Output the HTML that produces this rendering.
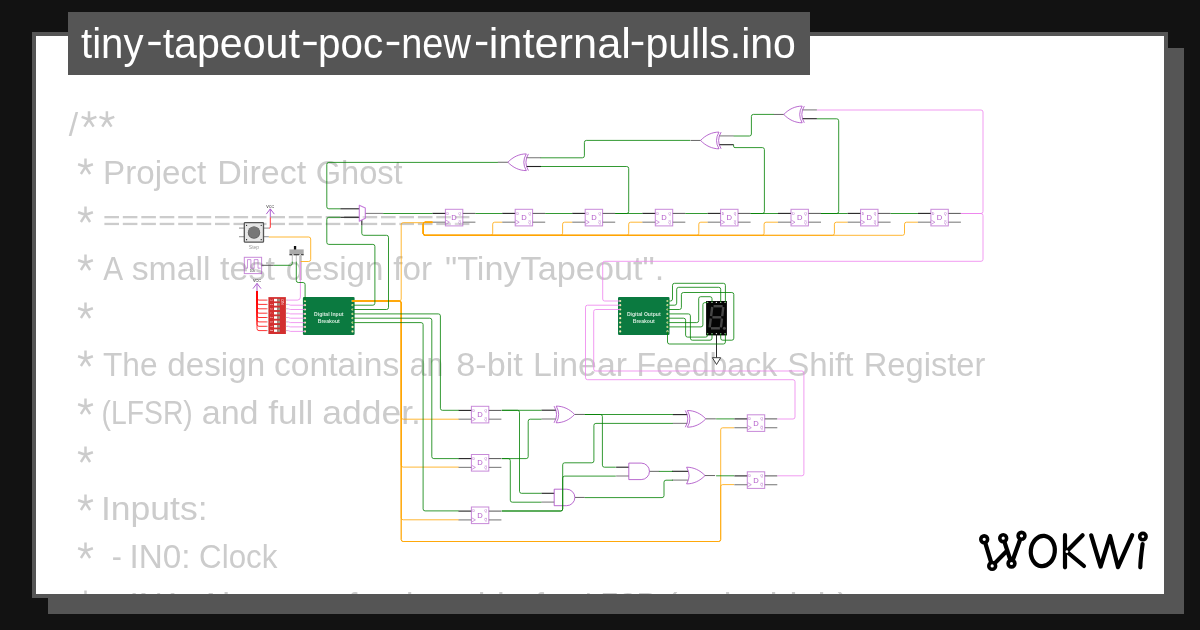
<!DOCTYPE html>
<html><head><meta charset="utf-8">
<style>
html,body{margin:0;padding:0;}
body{width:1200px;height:630px;background:#121212;overflow:hidden;position:relative;font-family:"Liberation Sans",sans-serif;}
#card{position:absolute;left:32px;top:32px;width:1128px;height:558px;border:4px solid #555;background:#fff;box-shadow:16px 16px 0 #555;overflow:hidden;}
#title{position:absolute;left:68px;top:12px;width:742px;height:63px;background:#555;}
svg{position:absolute;left:0;top:0;will-change:transform;}
</style></head><body>
<div id="card"></div>
<svg id="txt" width="1200" height="630" viewBox="0 0 1200 630" font-family="Liberation Sans, sans-serif">
<svg x="36" y="36" width="1128" height="558" viewBox="36 36 1128 558" style="position:static;will-change:auto"><g fill="#cccccc" font-size="34">
<text x="68.7" y="136" textLength="9.4" lengthAdjust="spacingAndGlyphs">/</text>
<path transform="translate(89.0 119.5)" d="M0 0V-8.2M0 0L7.4 -2.6M0 0L-7.4 -2.6M0 0L4.6 7.2M0 0L-4.6 7.2" stroke="#ccc" stroke-width="2.5" fill="none"/>
<path transform="translate(106.9 119.5)" d="M0 0V-8.2M0 0L7.4 -2.6M0 0L-7.4 -2.6M0 0L4.6 7.2M0 0L-4.6 7.2" stroke="#ccc" stroke-width="2.5" fill="none"/>
<path transform="translate(85.5 166.8)" d="M0 0V-8.2M0 0L7.4 -2.6M0 0L-7.4 -2.6M0 0L4.6 7.2M0 0L-4.6 7.2" stroke="#ccc" stroke-width="2.5" fill="none"/>
<text x="103.1" y="184" textLength="103.1" lengthAdjust="spacingAndGlyphs">Project</text>
<text x="217.3" y="184" textLength="88.8" lengthAdjust="spacingAndGlyphs">Direct</text>
<text x="315.7" y="184" textLength="87.0" lengthAdjust="spacingAndGlyphs">Ghost</text>
<path transform="translate(85.5 214.8)" d="M0 0V-8.2M0 0L7.4 -2.6M0 0L-7.4 -2.6M0 0L4.6 7.2M0 0L-4.6 7.2" stroke="#ccc" stroke-width="2.5" fill="none"/>
<path transform="translate(85.5 262.8)" d="M0 0V-8.2M0 0L7.4 -2.6M0 0L-7.4 -2.6M0 0L4.6 7.2M0 0L-4.6 7.2" stroke="#ccc" stroke-width="2.5" fill="none"/>
<text x="103.3" y="280" textLength="19.9" lengthAdjust="spacingAndGlyphs">A</text>
<text x="131.7" y="280" textLength="78.8" lengthAdjust="spacingAndGlyphs">small</text>
<text x="220.0" y="280" textLength="54.9" lengthAdjust="spacingAndGlyphs">test</text>
<text x="285.7" y="280" textLength="97.8" lengthAdjust="spacingAndGlyphs">design</text>
<text x="393.3" y="280" textLength="38.7" lengthAdjust="spacingAndGlyphs">for</text>
<text x="445.0" y="280" textLength="219.2" lengthAdjust="spacingAndGlyphs">&quot;TinyTapeout&quot;.</text>
<path transform="translate(85.5 310.8)" d="M0 0V-8.2M0 0L7.4 -2.6M0 0L-7.4 -2.6M0 0L4.6 7.2M0 0L-4.6 7.2" stroke="#ccc" stroke-width="2.5" fill="none"/>
<path transform="translate(85.5 358.8)" d="M0 0V-8.2M0 0L7.4 -2.6M0 0L-7.4 -2.6M0 0L4.6 7.2M0 0L-4.6 7.2" stroke="#ccc" stroke-width="2.5" fill="none"/>
<text x="103.0" y="376" textLength="54.5" lengthAdjust="spacingAndGlyphs">The</text>
<text x="167.3" y="376" textLength="97.8" lengthAdjust="spacingAndGlyphs">design</text>
<text x="274.0" y="376" textLength="125.3" lengthAdjust="spacingAndGlyphs">contains</text>
<text x="409.8" y="376" textLength="33.6" lengthAdjust="spacingAndGlyphs">an</text>
<text x="456.3" y="376" textLength="66.4" lengthAdjust="spacingAndGlyphs">8-bit</text>
<text x="533.0" y="376" textLength="94.0" lengthAdjust="spacingAndGlyphs">Linear</text>
<text x="636.4" y="376" textLength="140.9" lengthAdjust="spacingAndGlyphs">Feedback</text>
<text x="787.3" y="376" textLength="66.1" lengthAdjust="spacingAndGlyphs">Shift</text>
<text x="863.8" y="376" textLength="121.5" lengthAdjust="spacingAndGlyphs">Register</text>
<path transform="translate(85.5 406.8)" d="M0 0V-8.2M0 0L7.4 -2.6M0 0L-7.4 -2.6M0 0L4.6 7.2M0 0L-4.6 7.2" stroke="#ccc" stroke-width="2.5" fill="none"/>
<text x="101.6" y="424" textLength="91.2" lengthAdjust="spacingAndGlyphs">(LFSR)</text>
<text x="201.7" y="424" textLength="56.9" lengthAdjust="spacingAndGlyphs">and</text>
<text x="268.3" y="424" textLength="45.0" lengthAdjust="spacingAndGlyphs">full</text>
<text x="322.3" y="424" textLength="98.6" lengthAdjust="spacingAndGlyphs">adder.</text>
<path transform="translate(85.5 454.8)" d="M0 0V-8.2M0 0L7.4 -2.6M0 0L-7.4 -2.6M0 0L4.6 7.2M0 0L-4.6 7.2" stroke="#ccc" stroke-width="2.5" fill="none"/>
<path transform="translate(85.5 502.8)" d="M0 0V-8.2M0 0L7.4 -2.6M0 0L-7.4 -2.6M0 0L4.6 7.2M0 0L-4.6 7.2" stroke="#ccc" stroke-width="2.5" fill="none"/>
<text x="100.9" y="520" textLength="106.7" lengthAdjust="spacingAndGlyphs">Inputs:</text>
<path transform="translate(85.5 550.8)" d="M0 0V-8.2M0 0L7.4 -2.6M0 0L-7.4 -2.6M0 0L4.6 7.2M0 0L-4.6 7.2" stroke="#ccc" stroke-width="2.5" fill="none"/>
<text x="111.8" y="568" textLength="10.1" lengthAdjust="spacingAndGlyphs">-</text>
<text x="129.6" y="568" textLength="61.0" lengthAdjust="spacingAndGlyphs">IN0:</text>
<text x="199.1" y="568" textLength="78.3" lengthAdjust="spacingAndGlyphs">Clock</text>
<path transform="translate(85.5 598.8)" d="M0 0V-8.2M0 0L7.4 -2.6M0 0L-7.4 -2.6M0 0L4.6 7.2M0 0L-4.6 7.2" stroke="#ccc" stroke-width="2.5" fill="none"/>
<text x="111.8" y="616" textLength="10.1" lengthAdjust="spacingAndGlyphs">-</text>
<text x="129.6" y="616" textLength="61.1" lengthAdjust="spacingAndGlyphs">IN1:</text>
<text x="199.0" y="616" textLength="139.9" lengthAdjust="spacingAndGlyphs">Alternate</text>
<text x="348.0" y="616" textLength="65.4" lengthAdjust="spacingAndGlyphs">feed</text>
<text x="420.0" y="616" textLength="103.9" lengthAdjust="spacingAndGlyphs">enable</text>
<text x="535.0" y="616" textLength="37.8" lengthAdjust="spacingAndGlyphs">for</text>
<text x="584.8" y="616" textLength="72.5" lengthAdjust="spacingAndGlyphs">LFSR</text>
<text x="666.0" y="616" textLength="102.0" lengthAdjust="spacingAndGlyphs">(active</text>
<text x="769.4" y="616" textLength="80.0" lengthAdjust="spacingAndGlyphs">high)</text>
<rect x="104.4" y="216.0" width="14.6" height="2.3"/><rect x="104.4" y="222.8" width="14.6" height="2.3"/><rect x="122.8" y="216.0" width="14.6" height="2.3"/><rect x="122.8" y="222.8" width="14.6" height="2.3"/><rect x="141.3" y="216.0" width="14.6" height="2.3"/><rect x="141.3" y="222.8" width="14.6" height="2.3"/><rect x="159.7" y="216.0" width="14.6" height="2.3"/><rect x="159.7" y="222.8" width="14.6" height="2.3"/><rect x="178.2" y="216.0" width="14.6" height="2.3"/><rect x="178.2" y="222.8" width="14.6" height="2.3"/><rect x="196.6" y="216.0" width="14.6" height="2.3"/><rect x="196.6" y="222.8" width="14.6" height="2.3"/><rect x="215.0" y="216.0" width="14.6" height="2.3"/><rect x="215.0" y="222.8" width="14.6" height="2.3"/><rect x="233.5" y="216.0" width="14.6" height="2.3"/><rect x="233.5" y="222.8" width="14.6" height="2.3"/><rect x="251.9" y="216.0" width="14.6" height="2.3"/><rect x="251.9" y="222.8" width="14.6" height="2.3"/><rect x="270.4" y="216.0" width="14.6" height="2.3"/><rect x="270.4" y="222.8" width="14.6" height="2.3"/><rect x="288.8" y="216.0" width="14.6" height="2.3"/><rect x="288.8" y="222.8" width="14.6" height="2.3"/><rect x="307.2" y="216.0" width="14.6" height="2.3"/><rect x="307.2" y="222.8" width="14.6" height="2.3"/><rect x="325.7" y="216.0" width="14.6" height="2.3"/><rect x="325.7" y="222.8" width="14.6" height="2.3"/><rect x="344.1" y="216.0" width="14.6" height="2.3"/><rect x="344.1" y="222.8" width="14.6" height="2.3"/><rect x="362.6" y="216.0" width="14.6" height="2.3"/><rect x="362.6" y="222.8" width="14.6" height="2.3"/><rect x="381.0" y="216.0" width="14.6" height="2.3"/><rect x="381.0" y="222.8" width="14.6" height="2.3"/><rect x="399.4" y="216.0" width="14.6" height="2.3"/><rect x="399.4" y="222.8" width="14.6" height="2.3"/><rect x="417.9" y="216.0" width="14.6" height="2.3"/><rect x="417.9" y="222.8" width="14.6" height="2.3"/><rect x="436.3" y="216.0" width="14.6" height="2.3"/><rect x="436.3" y="222.8" width="14.6" height="2.3"/><rect x="454.8" y="216.0" width="14.6" height="2.3"/><rect x="454.8" y="222.8" width="14.6" height="2.3"/>
</g></svg>
</svg>
<svg id="circ" width="1200" height="630" viewBox="0 0 1200 630" font-family="Liberation Sans, sans-serif" fill="none">
<g>
<path d="M239.00 228.10L268.80 228.10" stroke="#999" stroke-width="1.1"/>
<path d="M239.00 236.70L268.80 236.70" stroke="#999" stroke-width="1.1"/>
<rect x="244.3" y="222.7" width="19.2" height="19.5" rx="0.8" fill="#e6e6e6" stroke="#555" stroke-width="1.3"/>
<circle cx="254" cy="232.6" r="6.2" fill="#5a5a5a"/><circle cx="254" cy="232.2" r="5.8" fill="#777"/>
<circle cx="246.6" cy="225.3" r="0.6" fill="#111"/>
<circle cx="261.2" cy="225.3" r="0.6" fill="#111"/>
<circle cx="246.6" cy="239.7" r="0.6" fill="#111"/>
<circle cx="261.2" cy="239.7" r="0.6" fill="#111"/>
<text x="254" y="249.3" font-size="5" fill="#999" text-anchor="middle">Step</text>
</g>
<text x="270.3" y="207.7" font-size="3.8" fill="#111" text-anchor="middle">VCC</text>
<path d="M270.3 217.3V208.9M266.3 214.1L270.3 208.9L274.3 214.1" stroke="#aa55cc" stroke-width="0.95" stroke-linejoin="round"/>
<text x="257" y="282.2" font-size="3.8" fill="#111" text-anchor="middle">VCC</text>
<path d="M257 291V283.4M253 288.59999999999997L257 283.4L261 288.59999999999997" stroke="#aa55cc" stroke-width="0.95" stroke-linejoin="round"/>
<g>
<path d="M261.60 265.30L273.70 265.30" stroke="#555" stroke-width="1.0"/>
<rect x="244.3" y="257.3" width="17.3" height="16.3" stroke="#a33cc0" stroke-opacity="0.6" stroke-width="1"/>
<path d="M245.6 268.2H247.5V259.6H250.9V268.2H254.2V259.6H258V268.2H260.6" stroke="#a33cc0" stroke-opacity="0.6" stroke-width="0.9"/>
<rect x="248.5" y="269.6" width="8" height="3.2" fill="#fff" fill-opacity="0.7"/>
<text x="252.4" y="272.4" font-size="3.4" fill="#444" text-anchor="middle">10k</text>
</g>
<g>
<path d="M292.30 255.00L292.30 261.50" stroke="#bbb" stroke-width="1.0"/>
<path d="M296.30 255.00L296.30 261.50" stroke="#bbb" stroke-width="1.0"/>
<path d="M300.40 255.00L300.40 261.50" stroke="#bbb" stroke-width="1.0"/>
<rect x="289.4" y="249.4" width="14.3" height="4.7" fill="#aaa"/>
<rect x="293.9" y="246" width="2.3" height="3.5" fill="#111"/>
<path d="M289.4 254.7H292.3M293.5 254.7H299.5M300.8 254.7H303.7" stroke="#111" stroke-width="1.1"/>
</g>
<g>
<rect x="268.4" y="297.1" width="17.5" height="36.9" fill="#d32f2f"/>
<path d="M266.60 300.10L268.40 300.10" stroke="#bbb" stroke-width="0.9"/>
<path d="M285.90 300.10L287.80 300.10" stroke="#bbb" stroke-width="0.9"/>
<rect x="274" y="298.85" width="3.1" height="2.5" fill="#fff"/><rect x="277.1" y="298.85" width="2.9" height="2.5" fill="#999080"/>
<text x="271.3" y="301.00" font-size="2.6" fill="#fff" fill-opacity="0.8" text-anchor="middle" transform="rotate(90 271.3 300.10)">1</text>
<path d="M266.60 304.40L268.40 304.40" stroke="#bbb" stroke-width="0.9"/>
<path d="M285.90 304.40L287.80 304.40" stroke="#bbb" stroke-width="0.9"/>
<rect x="274" y="303.15" width="3.1" height="2.5" fill="#fff"/><rect x="277.1" y="303.15" width="2.9" height="2.5" fill="#999080"/>
<text x="271.3" y="305.30" font-size="2.6" fill="#fff" fill-opacity="0.8" text-anchor="middle" transform="rotate(90 271.3 304.40)">2</text>
<path d="M266.60 308.80L268.40 308.80" stroke="#bbb" stroke-width="0.9"/>
<path d="M285.90 308.80L287.80 308.80" stroke="#bbb" stroke-width="0.9"/>
<rect x="274" y="307.55" width="3.1" height="2.5" fill="#fff"/><rect x="277.1" y="307.55" width="2.9" height="2.5" fill="#999080"/>
<text x="271.3" y="309.70" font-size="2.6" fill="#fff" fill-opacity="0.8" text-anchor="middle" transform="rotate(90 271.3 308.80)">3</text>
<path d="M266.60 313.20L268.40 313.20" stroke="#bbb" stroke-width="0.9"/>
<path d="M285.90 313.20L287.80 313.20" stroke="#bbb" stroke-width="0.9"/>
<rect x="274" y="311.95" width="3.1" height="2.5" fill="#fff"/><rect x="277.1" y="311.95" width="2.9" height="2.5" fill="#999080"/>
<text x="271.3" y="314.10" font-size="2.6" fill="#fff" fill-opacity="0.8" text-anchor="middle" transform="rotate(90 271.3 313.20)">4</text>
<path d="M266.60 317.50L268.40 317.50" stroke="#bbb" stroke-width="0.9"/>
<path d="M285.90 317.50L287.80 317.50" stroke="#bbb" stroke-width="0.9"/>
<rect x="274" y="316.25" width="3.1" height="2.5" fill="#fff"/><rect x="277.1" y="316.25" width="2.9" height="2.5" fill="#999080"/>
<text x="271.3" y="318.40" font-size="2.6" fill="#fff" fill-opacity="0.8" text-anchor="middle" transform="rotate(90 271.3 317.50)">5</text>
<path d="M266.60 321.90L268.40 321.90" stroke="#bbb" stroke-width="0.9"/>
<path d="M285.90 321.90L287.80 321.90" stroke="#bbb" stroke-width="0.9"/>
<rect x="274" y="320.65" width="3.1" height="2.5" fill="#fff"/><rect x="277.1" y="320.65" width="2.9" height="2.5" fill="#999080"/>
<text x="271.3" y="322.80" font-size="2.6" fill="#fff" fill-opacity="0.8" text-anchor="middle" transform="rotate(90 271.3 321.90)">6</text>
<path d="M266.60 326.30L268.40 326.30" stroke="#bbb" stroke-width="0.9"/>
<path d="M285.90 326.30L287.80 326.30" stroke="#bbb" stroke-width="0.9"/>
<rect x="274" y="325.05" width="3.1" height="2.5" fill="#fff"/><rect x="277.1" y="325.05" width="2.9" height="2.5" fill="#999080"/>
<text x="271.3" y="327.20" font-size="2.6" fill="#fff" fill-opacity="0.8" text-anchor="middle" transform="rotate(90 271.3 326.30)">7</text>
<path d="M266.60 330.60L268.40 330.60" stroke="#bbb" stroke-width="0.9"/>
<path d="M285.90 330.60L287.80 330.60" stroke="#bbb" stroke-width="0.9"/>
<rect x="274" y="329.35" width="3.1" height="2.5" fill="#fff"/><rect x="277.1" y="329.35" width="2.9" height="2.5" fill="#999080"/>
<text x="271.3" y="331.50" font-size="2.6" fill="#fff" fill-opacity="0.8" text-anchor="middle" transform="rotate(90 271.3 330.60)">8</text>
<text x="282.4" y="301.9" font-size="3.6" fill="#fff" fill-opacity="0.9" text-anchor="middle" transform="rotate(90 282.4 301.9)" dy="1.2">ON</text>
</g>
<rect x="302.9" y="296.9" width="51.7" height="38" rx="1.2" fill="#0b7a40"/>
<circle cx="305" cy="301.0" r="1.1" fill="#f3ecb3"/><circle cx="352.5" cy="301.0" r="1.1" fill="#f3ecb3"/>
<circle cx="305" cy="305.2" r="1.1" fill="#f3ecb3"/><circle cx="352.5" cy="305.2" r="1.1" fill="#f3ecb3"/>
<circle cx="305" cy="309.5" r="1.1" fill="#f3ecb3"/><circle cx="352.5" cy="309.5" r="1.1" fill="#f3ecb3"/>
<circle cx="305" cy="313.9" r="1.1" fill="#f3ecb3"/><circle cx="352.5" cy="313.9" r="1.1" fill="#f3ecb3"/>
<circle cx="305" cy="318.2" r="1.1" fill="#f3ecb3"/><circle cx="352.5" cy="318.2" r="1.1" fill="#f3ecb3"/>
<circle cx="305" cy="322.6" r="1.1" fill="#f3ecb3"/><circle cx="352.5" cy="322.6" r="1.1" fill="#f3ecb3"/>
<circle cx="305" cy="326.9" r="1.1" fill="#f3ecb3"/><circle cx="352.5" cy="326.9" r="1.1" fill="#f3ecb3"/>
<circle cx="305" cy="331.4" r="1.1" fill="#f3ecb3"/><circle cx="352.5" cy="331.4" r="1.1" fill="#f3ecb3"/>
<g font-size="5.1" font-weight="bold" fill="#e4f3e8" fill-opacity="0.92" text-anchor="middle"><text x="328.75" y="316.0">Digital Input</text><text x="328.75" y="322.79999999999995">Breakout</text></g>
<rect x="618" y="296.9" width="51.5" height="38" rx="1.2" fill="#0b7a40"/>
<circle cx="620.2" cy="301.0" r="1.1" fill="#f3ecb3"/><circle cx="667.5" cy="301.0" r="1.1" fill="#f3ecb3"/>
<circle cx="620.2" cy="305.2" r="1.1" fill="#f3ecb3"/><circle cx="667.5" cy="305.2" r="1.1" fill="#f3ecb3"/>
<circle cx="620.2" cy="309.5" r="1.1" fill="#f3ecb3"/><circle cx="667.5" cy="309.5" r="1.1" fill="#f3ecb3"/>
<circle cx="620.2" cy="313.9" r="1.1" fill="#f3ecb3"/><circle cx="667.5" cy="313.9" r="1.1" fill="#f3ecb3"/>
<circle cx="620.2" cy="318.2" r="1.1" fill="#f3ecb3"/><circle cx="667.5" cy="318.2" r="1.1" fill="#f3ecb3"/>
<circle cx="620.2" cy="322.6" r="1.1" fill="#f3ecb3"/><circle cx="667.5" cy="322.6" r="1.1" fill="#f3ecb3"/>
<circle cx="620.2" cy="326.9" r="1.1" fill="#f3ecb3"/><circle cx="667.5" cy="326.9" r="1.1" fill="#f3ecb3"/>
<circle cx="620.2" cy="331.4" r="1.1" fill="#f3ecb3"/><circle cx="667.5" cy="331.4" r="1.1" fill="#f3ecb3"/>
<g font-size="5.1" font-weight="bold" fill="#e4f3e8" fill-opacity="0.92" text-anchor="middle"><text x="643.75" y="316.0">Digital Output</text><text x="643.75" y="322.79999999999995">Breakout</text></g>
<g>
<rect x="706.1" y="301" width="20.8" height="34.4" fill="#050505"/>
<circle cx="707.6" cy="302.4" r="0.7" fill="#ddd"/><circle cx="707.6" cy="333.6" r="0.7" fill="#ddd"/>
<circle cx="712.0" cy="302.4" r="0.7" fill="#ddd"/><circle cx="712.0" cy="333.6" r="0.7" fill="#ddd"/>
<circle cx="716.4" cy="302.4" r="0.7" fill="#ddd"/><circle cx="716.4" cy="333.6" r="0.7" fill="#ddd"/>
<circle cx="720.7" cy="302.4" r="0.7" fill="#ddd"/><circle cx="720.7" cy="333.6" r="0.7" fill="#ddd"/>
<circle cx="725.1" cy="302.4" r="0.7" fill="#ddd"/><circle cx="725.1" cy="333.6" r="0.7" fill="#ddd"/>
<g stroke="#464646" stroke-width="2.4" stroke-linecap="butt">
<path d="M713.6 306.2H722.6"/>
<path d="M723.3 307.0L722.2 316.2"/>
<path d="M722.0 318.5L720.9 327.3"/>
<path d="M711 328.3H719.9"/>
<path d="M710.8 318.5L709.7 327.3"/>
<path d="M712.2 307.0L711.1 316.2"/>
<path d="M712.4 317.3H721.3"/>
</g>
<circle cx="724.4" cy="328.2" r="1.5" fill="#4a4a4a"/>
</g>
<path d="M716.5 335V357.6" stroke="#111" stroke-width="0.9"/><path d="M712.4 357.7H720.7L716.55 364.5Z" stroke="#111" stroke-width="0.8" fill="#fff"/>
<g>
<path d="M340.30 208.80L359.30 208.80" stroke="#222" stroke-width="1.1"/>
<path d="M340.30 217.30L359.30 217.30" stroke="#222" stroke-width="1.1"/>
<path d="M365.40 213.40L383.20 213.40" stroke="#777" stroke-width="1.0"/>
<path d="M361.80 220.30L361.80 225.60" stroke="#444" stroke-width="1.3"/>
<path d="M359.3 205.3L365.3 207.9V218.2L359.3 221.2Z" stroke="#b14fcf" stroke-opacity="0.75" stroke-width="1.1" fill="#fff" fill-opacity="0.4" stroke-linejoin="round"/>
</g>
<path d="M432.40 213.40L445.40 213.40" stroke="#222" stroke-width="1.1"/>
<path d="M432.40 222.20L445.40 222.20" stroke="#8a8a8a" stroke-width="1.2"/>
<path d="M462.80 213.40L475.40 213.40" stroke="#555" stroke-width="1.0"/>
<path d="M462.80 222.20L475.40 222.20" stroke="#8a8a8a" stroke-width="1.2"/>
<rect x="445.40" y="209.30" width="17.4" height="16.6" stroke="#a33cc0" stroke-opacity="0.6" stroke-width="1" fill="#fff" fill-opacity="0.25"/>
<text x="454.10" y="220.20" font-size="7.6" fill="#a33cc0" fill-opacity="0.85" text-anchor="middle" stroke="none">D</text>
<path d="M445.90 220.20L449.40 222.20L445.90 224.20" stroke="#a33cc0" stroke-opacity="0.7" stroke-width="0.7"/>
<g font-size="3.2" fill="#a33cc0" fill-opacity="0.95" stroke="none"><text x="446.60" y="214.50">D</text><text x="458.60" y="214.50">Q</text><text x="458.60" y="223.50">Q</text></g>
<path d="M458.60 220.60L461.00 220.60" stroke="#a33cc0" stroke-width="0.4" stroke-opacity="0.7"/>
<path d="M502.20 213.40L515.20 213.40" stroke="#222" stroke-width="1.1"/>
<path d="M502.20 222.20L515.20 222.20" stroke="#8a8a8a" stroke-width="1.2"/>
<path d="M532.60 213.40L545.20 213.40" stroke="#555" stroke-width="1.0"/>
<path d="M532.60 222.20L545.20 222.20" stroke="#8a8a8a" stroke-width="1.2"/>
<rect x="515.20" y="209.30" width="17.4" height="16.6" stroke="#a33cc0" stroke-opacity="0.6" stroke-width="1" fill="#fff" fill-opacity="0.25"/>
<text x="523.90" y="220.20" font-size="7.6" fill="#a33cc0" fill-opacity="0.85" text-anchor="middle" stroke="none">D</text>
<path d="M515.70 220.20L519.20 222.20L515.70 224.20" stroke="#a33cc0" stroke-opacity="0.7" stroke-width="0.7"/>
<g font-size="3.2" fill="#a33cc0" fill-opacity="0.95" stroke="none"><text x="516.40" y="214.50">D</text><text x="528.40" y="214.50">Q</text><text x="528.40" y="223.50">Q</text></g>
<path d="M528.40 220.60L530.80 220.60" stroke="#a33cc0" stroke-width="0.4" stroke-opacity="0.7"/>
<path d="M572.20 213.40L585.20 213.40" stroke="#222" stroke-width="1.1"/>
<path d="M572.20 222.20L585.20 222.20" stroke="#8a8a8a" stroke-width="1.2"/>
<path d="M602.60 213.40L615.20 213.40" stroke="#555" stroke-width="1.0"/>
<path d="M602.60 222.20L615.20 222.20" stroke="#8a8a8a" stroke-width="1.2"/>
<rect x="585.20" y="209.30" width="17.4" height="16.6" stroke="#a33cc0" stroke-opacity="0.6" stroke-width="1" fill="#fff" fill-opacity="0.25"/>
<text x="593.90" y="220.20" font-size="7.6" fill="#a33cc0" fill-opacity="0.85" text-anchor="middle" stroke="none">D</text>
<path d="M585.70 220.20L589.20 222.20L585.70 224.20" stroke="#a33cc0" stroke-opacity="0.7" stroke-width="0.7"/>
<g font-size="3.2" fill="#a33cc0" fill-opacity="0.95" stroke="none"><text x="586.40" y="214.50">D</text><text x="598.40" y="214.50">Q</text><text x="598.40" y="223.50">Q</text></g>
<path d="M598.40 220.60L600.80 220.60" stroke="#a33cc0" stroke-width="0.4" stroke-opacity="0.7"/>
<path d="M642.30 213.40L655.30 213.40" stroke="#222" stroke-width="1.1"/>
<path d="M642.30 222.20L655.30 222.20" stroke="#8a8a8a" stroke-width="1.2"/>
<path d="M672.70 213.40L685.30 213.40" stroke="#555" stroke-width="1.0"/>
<path d="M672.70 222.20L685.30 222.20" stroke="#8a8a8a" stroke-width="1.2"/>
<rect x="655.30" y="209.30" width="17.4" height="16.6" stroke="#a33cc0" stroke-opacity="0.6" stroke-width="1" fill="#fff" fill-opacity="0.25"/>
<text x="664.00" y="220.20" font-size="7.6" fill="#a33cc0" fill-opacity="0.85" text-anchor="middle" stroke="none">D</text>
<path d="M655.80 220.20L659.30 222.20L655.80 224.20" stroke="#a33cc0" stroke-opacity="0.7" stroke-width="0.7"/>
<g font-size="3.2" fill="#a33cc0" fill-opacity="0.95" stroke="none"><text x="656.50" y="214.50">D</text><text x="668.50" y="214.50">Q</text><text x="668.50" y="223.50">Q</text></g>
<path d="M668.50 220.60L670.90 220.60" stroke="#a33cc0" stroke-width="0.4" stroke-opacity="0.7"/>
<path d="M707.60 213.40L720.60 213.40" stroke="#222" stroke-width="1.1"/>
<path d="M707.60 222.20L720.60 222.20" stroke="#8a8a8a" stroke-width="1.2"/>
<path d="M738.00 213.40L750.60 213.40" stroke="#555" stroke-width="1.0"/>
<path d="M738.00 222.20L750.60 222.20" stroke="#8a8a8a" stroke-width="1.2"/>
<rect x="720.60" y="209.30" width="17.4" height="16.6" stroke="#a33cc0" stroke-opacity="0.6" stroke-width="1" fill="#fff" fill-opacity="0.25"/>
<text x="729.30" y="220.20" font-size="7.6" fill="#a33cc0" fill-opacity="0.85" text-anchor="middle" stroke="none">D</text>
<path d="M721.10 220.20L724.60 222.20L721.10 224.20" stroke="#a33cc0" stroke-opacity="0.7" stroke-width="0.7"/>
<g font-size="3.2" fill="#a33cc0" fill-opacity="0.95" stroke="none"><text x="721.80" y="214.50">D</text><text x="733.80" y="214.50">Q</text><text x="733.80" y="223.50">Q</text></g>
<path d="M733.80 220.60L736.20 220.60" stroke="#a33cc0" stroke-width="0.4" stroke-opacity="0.7"/>
<path d="M778.00 213.40L791.00 213.40" stroke="#222" stroke-width="1.1"/>
<path d="M778.00 222.20L791.00 222.20" stroke="#8a8a8a" stroke-width="1.2"/>
<path d="M808.40 213.40L821.00 213.40" stroke="#555" stroke-width="1.0"/>
<path d="M808.40 222.20L821.00 222.20" stroke="#8a8a8a" stroke-width="1.2"/>
<rect x="791.00" y="209.30" width="17.4" height="16.6" stroke="#a33cc0" stroke-opacity="0.6" stroke-width="1" fill="#fff" fill-opacity="0.25"/>
<text x="799.70" y="220.20" font-size="7.6" fill="#a33cc0" fill-opacity="0.85" text-anchor="middle" stroke="none">D</text>
<path d="M791.50 220.20L795.00 222.20L791.50 224.20" stroke="#a33cc0" stroke-opacity="0.7" stroke-width="0.7"/>
<g font-size="3.2" fill="#a33cc0" fill-opacity="0.95" stroke="none"><text x="792.20" y="214.50">D</text><text x="804.20" y="214.50">Q</text><text x="804.20" y="223.50">Q</text></g>
<path d="M804.20 220.60L806.60 220.60" stroke="#a33cc0" stroke-width="0.4" stroke-opacity="0.7"/>
<path d="M847.60 213.40L860.60 213.40" stroke="#222" stroke-width="1.1"/>
<path d="M847.60 222.20L860.60 222.20" stroke="#8a8a8a" stroke-width="1.2"/>
<path d="M878.00 213.40L890.60 213.40" stroke="#555" stroke-width="1.0"/>
<path d="M878.00 222.20L890.60 222.20" stroke="#8a8a8a" stroke-width="1.2"/>
<rect x="860.60" y="209.30" width="17.4" height="16.6" stroke="#a33cc0" stroke-opacity="0.6" stroke-width="1" fill="#fff" fill-opacity="0.25"/>
<text x="869.30" y="220.20" font-size="7.6" fill="#a33cc0" fill-opacity="0.85" text-anchor="middle" stroke="none">D</text>
<path d="M861.10 220.20L864.60 222.20L861.10 224.20" stroke="#a33cc0" stroke-opacity="0.7" stroke-width="0.7"/>
<g font-size="3.2" fill="#a33cc0" fill-opacity="0.95" stroke="none"><text x="861.80" y="214.50">D</text><text x="873.80" y="214.50">Q</text><text x="873.80" y="223.50">Q</text></g>
<path d="M873.80 220.60L876.20 220.60" stroke="#a33cc0" stroke-width="0.4" stroke-opacity="0.7"/>
<path d="M917.90 213.40L930.90 213.40" stroke="#222" stroke-width="1.1"/>
<path d="M917.90 222.20L930.90 222.20" stroke="#8a8a8a" stroke-width="1.2"/>
<path d="M948.30 213.40L960.90 213.40" stroke="#555" stroke-width="1.0"/>
<path d="M948.30 222.20L960.90 222.20" stroke="#8a8a8a" stroke-width="1.2"/>
<rect x="930.90" y="209.30" width="17.4" height="16.6" stroke="#a33cc0" stroke-opacity="0.6" stroke-width="1" fill="#fff" fill-opacity="0.25"/>
<text x="939.60" y="220.20" font-size="7.6" fill="#a33cc0" fill-opacity="0.85" text-anchor="middle" stroke="none">D</text>
<path d="M931.40 220.20L934.90 222.20L931.40 224.20" stroke="#a33cc0" stroke-opacity="0.7" stroke-width="0.7"/>
<g font-size="3.2" fill="#a33cc0" fill-opacity="0.95" stroke="none"><text x="932.10" y="214.50">D</text><text x="944.10" y="214.50">Q</text><text x="944.10" y="223.50">Q</text></g>
<path d="M944.10 220.60L946.50 220.60" stroke="#a33cc0" stroke-width="0.4" stroke-opacity="0.7"/>
<path d="M458.40 410.40L471.40 410.40" stroke="#222" stroke-width="1.1"/>
<path d="M458.40 419.20L471.40 419.20" stroke="#8a8a8a" stroke-width="1.2"/>
<path d="M488.80 410.40L501.40 410.40" stroke="#555" stroke-width="1.0"/>
<path d="M488.80 419.20L501.40 419.20" stroke="#8a8a8a" stroke-width="1.2"/>
<rect x="471.40" y="406.30" width="17.4" height="16.6" stroke="#a33cc0" stroke-opacity="0.6" stroke-width="1" fill="#fff" fill-opacity="0.25"/>
<text x="480.10" y="417.20" font-size="7.6" fill="#a33cc0" fill-opacity="0.85" text-anchor="middle" stroke="none">D</text>
<path d="M471.90 417.20L475.40 419.20L471.90 421.20" stroke="#a33cc0" stroke-opacity="0.7" stroke-width="0.7"/>
<g font-size="3.2" fill="#a33cc0" fill-opacity="0.95" stroke="none"><text x="472.60" y="411.50">D</text><text x="484.60" y="411.50">Q</text><text x="484.60" y="420.50">Q</text></g>
<path d="M484.60 417.60L487.00 417.60" stroke="#a33cc0" stroke-width="0.4" stroke-opacity="0.7"/>
<path d="M458.40 458.60L471.40 458.60" stroke="#222" stroke-width="1.1"/>
<path d="M458.40 467.40L471.40 467.40" stroke="#8a8a8a" stroke-width="1.2"/>
<path d="M488.80 458.60L501.40 458.60" stroke="#555" stroke-width="1.0"/>
<path d="M488.80 467.40L501.40 467.40" stroke="#8a8a8a" stroke-width="1.2"/>
<rect x="471.40" y="454.50" width="17.4" height="16.6" stroke="#a33cc0" stroke-opacity="0.6" stroke-width="1" fill="#fff" fill-opacity="0.25"/>
<text x="480.10" y="465.40" font-size="7.6" fill="#a33cc0" fill-opacity="0.85" text-anchor="middle" stroke="none">D</text>
<path d="M471.90 465.40L475.40 467.40L471.90 469.40" stroke="#a33cc0" stroke-opacity="0.7" stroke-width="0.7"/>
<g font-size="3.2" fill="#a33cc0" fill-opacity="0.95" stroke="none"><text x="472.60" y="459.70">D</text><text x="484.60" y="459.70">Q</text><text x="484.60" y="468.70">Q</text></g>
<path d="M484.60 465.80L487.00 465.80" stroke="#a33cc0" stroke-width="0.4" stroke-opacity="0.7"/>
<path d="M458.40 511.10L471.40 511.10" stroke="#222" stroke-width="1.1"/>
<path d="M458.40 519.90L471.40 519.90" stroke="#8a8a8a" stroke-width="1.2"/>
<path d="M488.80 511.10L501.40 511.10" stroke="#555" stroke-width="1.0"/>
<path d="M488.80 519.90L501.40 519.90" stroke="#8a8a8a" stroke-width="1.2"/>
<rect x="471.40" y="507.00" width="17.4" height="16.6" stroke="#a33cc0" stroke-opacity="0.6" stroke-width="1" fill="#fff" fill-opacity="0.25"/>
<text x="480.10" y="517.90" font-size="7.6" fill="#a33cc0" fill-opacity="0.85" text-anchor="middle" stroke="none">D</text>
<path d="M471.90 517.90L475.40 519.90L471.90 521.90" stroke="#a33cc0" stroke-opacity="0.7" stroke-width="0.7"/>
<g font-size="3.2" fill="#a33cc0" fill-opacity="0.95" stroke="none"><text x="472.60" y="512.20">D</text><text x="484.60" y="512.20">Q</text><text x="484.60" y="521.20">Q</text></g>
<path d="M484.60 518.30L487.00 518.30" stroke="#a33cc0" stroke-width="0.4" stroke-opacity="0.7"/>
<path d="M734.30 418.90L747.30 418.90" stroke="#222" stroke-width="1.1"/>
<path d="M734.30 427.70L747.30 427.70" stroke="#8a8a8a" stroke-width="1.2"/>
<path d="M764.70 418.90L777.30 418.90" stroke="#555" stroke-width="1.0"/>
<path d="M764.70 427.70L777.30 427.70" stroke="#8a8a8a" stroke-width="1.2"/>
<rect x="747.30" y="414.80" width="17.4" height="16.6" stroke="#a33cc0" stroke-opacity="0.6" stroke-width="1" fill="#fff" fill-opacity="0.25"/>
<text x="756.00" y="425.70" font-size="7.6" fill="#a33cc0" fill-opacity="0.85" text-anchor="middle" stroke="none">D</text>
<path d="M747.80 425.70L751.30 427.70L747.80 429.70" stroke="#a33cc0" stroke-opacity="0.7" stroke-width="0.7"/>
<g font-size="3.2" fill="#a33cc0" fill-opacity="0.95" stroke="none"><text x="748.50" y="420.00">D</text><text x="760.50" y="420.00">Q</text><text x="760.50" y="429.00">Q</text></g>
<path d="M760.50 426.10L762.90 426.10" stroke="#a33cc0" stroke-width="0.4" stroke-opacity="0.7"/>
<path d="M734.30 475.90L747.30 475.90" stroke="#222" stroke-width="1.1"/>
<path d="M734.30 484.70L747.30 484.70" stroke="#8a8a8a" stroke-width="1.2"/>
<path d="M764.70 475.90L777.30 475.90" stroke="#555" stroke-width="1.0"/>
<path d="M764.70 484.70L777.30 484.70" stroke="#8a8a8a" stroke-width="1.2"/>
<rect x="747.30" y="471.80" width="17.4" height="16.6" stroke="#a33cc0" stroke-opacity="0.6" stroke-width="1" fill="#fff" fill-opacity="0.25"/>
<text x="756.00" y="482.70" font-size="7.6" fill="#a33cc0" fill-opacity="0.85" text-anchor="middle" stroke="none">D</text>
<path d="M747.80 482.70L751.30 484.70L747.80 486.70" stroke="#a33cc0" stroke-opacity="0.7" stroke-width="0.7"/>
<g font-size="3.2" fill="#a33cc0" fill-opacity="0.95" stroke="none"><text x="748.50" y="477.00">D</text><text x="760.50" y="477.00">Q</text><text x="760.50" y="486.00">Q</text></g>
<path d="M760.50 483.10L762.90 483.10" stroke="#a33cc0" stroke-width="0.4" stroke-opacity="0.7"/>
<path d="M526.50 157.70L541.00 157.70" stroke="#8a8a8a" stroke-width="1.2"/>
<path d="M526.50 166.50L541.00 166.50" stroke="#222" stroke-width="1.1"/>
<path d="M507.90 162.25L497.80 162.25" stroke="#555" stroke-width="0.9"/>
<path d="M526.30 153.90C519.40 153.90 512.90 156.90 507.90 162.25C512.90 167.60 519.40 170.60 526.30 170.60Q521.30 162.25 526.30 153.90Z" stroke="#a33cc0" stroke-opacity="0.8" stroke-width="0.95" fill="#fff" fill-opacity="0.3"/>
<path d="M528.40 153.90Q523.40 162.25 528.40 170.60" stroke="#a33cc0" stroke-opacity="0.8" stroke-width="0.95"/>
<path d="M719.20 135.90L733.70 135.90" stroke="#8a8a8a" stroke-width="1.2"/>
<path d="M719.20 144.70L733.70 144.70" stroke="#222" stroke-width="1.1"/>
<path d="M700.60 140.45L690.50 140.45" stroke="#555" stroke-width="0.9"/>
<path d="M719.00 132.10C712.10 132.10 705.60 135.10 700.60 140.45C705.60 145.80 712.10 148.80 719.00 148.80Q714.00 140.45 719.00 132.10Z" stroke="#a33cc0" stroke-opacity="0.8" stroke-width="0.95" fill="#fff" fill-opacity="0.3"/>
<path d="M721.10 132.10Q716.10 140.45 721.10 148.80" stroke="#a33cc0" stroke-opacity="0.8" stroke-width="0.95"/>
<path d="M802.40 109.90L816.90 109.90" stroke="#8a8a8a" stroke-width="1.2"/>
<path d="M802.40 118.70L816.90 118.70" stroke="#222" stroke-width="1.1"/>
<path d="M783.80 114.45L773.70 114.45" stroke="#555" stroke-width="0.9"/>
<path d="M802.20 106.10C795.30 106.10 788.80 109.10 783.80 114.45C788.80 119.80 795.30 122.80 802.20 122.80Q797.20 114.45 802.20 106.10Z" stroke="#a33cc0" stroke-opacity="0.8" stroke-width="0.95" fill="#fff" fill-opacity="0.3"/>
<path d="M804.30 106.10Q799.30 114.45 804.30 122.80" stroke="#a33cc0" stroke-opacity="0.8" stroke-width="0.95"/>
<path d="M541.50 410.20L556.00 410.20" stroke="#222" stroke-width="1.1"/>
<path d="M541.50 419.00L556.00 419.00" stroke="#8a8a8a" stroke-width="1.2"/>
<path d="M574.60 414.45L584.70 414.45" stroke="#555" stroke-width="0.9"/>
<path d="M556.20 406.10C563.10 406.10 569.60 409.10 574.60 414.45C569.60 419.80 563.10 422.80 556.20 422.80Q561.20 414.45 556.20 406.10Z" stroke="#a33cc0" stroke-opacity="0.8" stroke-width="0.95" fill="#fff" fill-opacity="0.3"/>
<path d="M554.10 406.10Q559.10 414.45 554.10 422.80" stroke="#a33cc0" stroke-opacity="0.8" stroke-width="0.95"/>
<path d="M672.70 414.60L687.20 414.60" stroke="#222" stroke-width="1.1"/>
<path d="M672.70 423.40L687.20 423.40" stroke="#8a8a8a" stroke-width="1.2"/>
<path d="M705.80 418.85L715.90 418.85" stroke="#555" stroke-width="0.9"/>
<path d="M687.40 410.50C694.30 410.50 700.80 413.50 705.80 418.85C700.80 424.20 694.30 427.20 687.40 427.20Q692.40 418.85 687.40 410.50Z" stroke="#a33cc0" stroke-opacity="0.8" stroke-width="0.95" fill="#fff" fill-opacity="0.3"/>
<path d="M685.30 410.50Q690.30 418.85 685.30 427.20" stroke="#a33cc0" stroke-opacity="0.8" stroke-width="0.95"/>
<path d="M541.50 493.30L554.20 493.30" stroke="#222" stroke-width="1.1"/>
<path d="M541.50 502.10L554.20 502.10" stroke="#8a8a8a" stroke-width="1.2"/>
<path d="M574.90 497.45L584.70 497.45" stroke="#555" stroke-width="0.9"/>
<path d="M554.20 489.20H566.60A8.25 8.25 0 0 1 566.60 505.70H554.20Z" stroke="#a33cc0" stroke-opacity="0.8" stroke-width="0.95" fill="#fff" fill-opacity="0.3"/>
<path d="M616.10 467.20L628.80 467.20" stroke="#222" stroke-width="1.1"/>
<path d="M616.10 476.00L628.80 476.00" stroke="#8a8a8a" stroke-width="1.2"/>
<path d="M649.50 471.35L659.30 471.35" stroke="#555" stroke-width="0.9"/>
<path d="M628.80 463.10H641.20A8.25 8.25 0 0 1 641.20 479.60H628.80Z" stroke="#a33cc0" stroke-opacity="0.8" stroke-width="0.95" fill="#fff" fill-opacity="0.3"/>
<path d="M671.90 471.30L688.10 471.30" stroke="#222" stroke-width="1.1"/>
<path d="M671.90 480.10L688.10 480.10" stroke="#8a8a8a" stroke-width="1.2"/>
<path d="M705.00 475.55L715.10 475.55" stroke="#555" stroke-width="0.9"/>
<path d="M686.60 467.20C693.50 467.20 700.00 470.20 705.00 475.55C700.00 480.90 693.50 483.90 686.60 483.90Q691.60 475.55 686.60 467.20Z" stroke="#a33cc0" stroke-opacity="0.8" stroke-width="0.95" fill="#fff" fill-opacity="0.3"/>
<g stroke-linecap="butt" stroke-linejoin="round">
<path d="M352.00 301.00L399.20 301.00Q401.20 301.00 401.20 299.00L401.20 224.70Q401.20 222.70 403.20 222.70L432.40 222.70" stroke="#ffa500" stroke-width="1.0" stroke-opacity="0.8"/>
<path d="M432.40 222.20L425.20 222.20Q423.20 222.20 423.20 224.20L423.20 233.30Q423.20 235.30 425.20 235.30L490.70 235.30Q492.70 235.30 492.70 233.30L492.70 224.20Q492.70 222.20 494.70 222.20L502.20 222.20" stroke="#ffa500" stroke-width="1.0" stroke-opacity="0.8"/>
<path d="M432.40 222.20L425.20 222.20Q423.20 222.20 423.20 224.20L423.20 233.30Q423.20 235.30 425.20 235.30L560.60 235.30Q562.60 235.30 562.60 233.30L562.60 224.20Q562.60 222.20 564.60 222.20L572.20 222.20" stroke="#ffa500" stroke-width="1.0" stroke-opacity="0.8"/>
<path d="M432.40 222.20L425.20 222.20Q423.20 222.20 423.20 224.20L423.20 233.30Q423.20 235.30 425.20 235.30L626.70 235.30Q628.70 235.30 628.70 233.30L628.70 224.20Q628.70 222.20 630.70 222.20L642.30 222.20" stroke="#ffa500" stroke-width="1.0" stroke-opacity="0.8"/>
<path d="M432.40 222.20L425.20 222.20Q423.20 222.20 423.20 224.20L423.20 233.30Q423.20 235.30 425.20 235.30L696.80 235.30Q698.80 235.30 698.80 233.30L698.80 224.20Q698.80 222.20 700.80 222.20L707.60 222.20" stroke="#ffa500" stroke-width="1.0" stroke-opacity="0.8"/>
<path d="M432.40 222.20L425.20 222.20Q423.20 222.20 423.20 224.20L423.20 233.30Q423.20 235.30 425.20 235.30L762.10 235.30Q764.10 235.30 764.10 233.30L764.10 224.20Q764.10 222.20 766.10 222.20L778.00 222.20" stroke="#ffa500" stroke-width="1.0" stroke-opacity="0.8"/>
<path d="M432.40 222.20L425.20 222.20Q423.20 222.20 423.20 224.20L423.20 233.30Q423.20 235.30 425.20 235.30L832.40 235.30Q834.40 235.30 834.40 233.30L834.40 224.20Q834.40 222.20 836.40 222.20L847.60 222.20" stroke="#ffa500" stroke-width="1.0" stroke-opacity="0.8"/>
<path d="M432.40 222.20L425.20 222.20Q423.20 222.20 423.20 224.20L423.20 233.30Q423.20 235.30 425.20 235.30L902.50 235.30Q904.50 235.30 904.50 233.30L904.50 224.20Q904.50 222.20 906.50 222.20L917.90 222.20" stroke="#ffa500" stroke-width="1.0" stroke-opacity="0.8"/>
<path d="M352.00 301.00L399.20 301.00Q401.20 301.00 401.20 303.00L401.20 417.20Q401.20 419.20 403.20 419.20L458.60 419.20" stroke="#ffa500" stroke-width="1.0" stroke-opacity="0.8"/>
<path d="M352.00 301.00L399.20 301.00Q401.20 301.00 401.20 303.00L401.20 465.10Q401.20 467.10 403.20 467.10L458.60 467.10" stroke="#ffa500" stroke-width="1.0" stroke-opacity="0.8"/>
<path d="M352.00 301.00L399.20 301.00Q401.20 301.00 401.20 303.00L401.20 517.80Q401.20 519.80 403.20 519.80L458.60 519.80" stroke="#ffa500" stroke-width="1.0" stroke-opacity="0.8"/>
<path d="M352.00 301.00L399.20 301.00Q401.20 301.00 401.20 303.00L401.20 539.50Q401.20 541.50 403.20 541.50L718.70 541.50Q720.70 541.50 720.70 539.50L720.70 429.80Q720.70 427.80 722.70 427.80L734.00 427.80" stroke="#ffa500" stroke-width="1.0" stroke-opacity="0.8"/>
<path d="M352.00 301.00L399.20 301.00Q401.20 301.00 401.20 303.00L401.20 539.50Q401.20 541.50 403.20 541.50L718.70 541.50Q720.70 541.50 720.70 539.50L720.70 486.60Q720.70 484.60 722.70 484.60L734.00 484.60" stroke="#ffa500" stroke-width="1.0" stroke-opacity="0.8"/>
<path d="M268.80 237.00L308.70 237.00Q310.70 237.00 310.70 239.00L310.70 259.50Q310.70 261.50 308.70 261.50L300.40 261.50" stroke="#ffa500" stroke-width="1.0" stroke-opacity="0.8"/>
<path d="M268.80 228.10L269.55 228.10Q270.30 228.10 270.30 227.35L270.30 217.30" stroke="#ff0000" stroke-width="1.0" stroke-opacity="0.8"/>
<path d="M266.80 300.10L259.00 300.10Q257.00 300.10 257.00 298.10L257.00 291.00" stroke="#ff0000" stroke-width="1.0" stroke-opacity="0.8"/>
<path d="M266.80 304.40L259.00 304.40Q257.00 304.40 257.00 302.40L257.00 291.00" stroke="#ff0000" stroke-width="1.0" stroke-opacity="0.8"/>
<path d="M266.80 308.80L259.00 308.80Q257.00 308.80 257.00 306.80L257.00 291.00" stroke="#ff0000" stroke-width="1.0" stroke-opacity="0.8"/>
<path d="M266.80 313.20L259.00 313.20Q257.00 313.20 257.00 311.20L257.00 291.00" stroke="#ff0000" stroke-width="1.0" stroke-opacity="0.8"/>
<path d="M266.80 317.50L259.00 317.50Q257.00 317.50 257.00 315.50L257.00 291.00" stroke="#ff0000" stroke-width="1.0" stroke-opacity="0.8"/>
<path d="M266.80 321.90L259.00 321.90Q257.00 321.90 257.00 319.90L257.00 291.00" stroke="#ff0000" stroke-width="1.0" stroke-opacity="0.8"/>
<path d="M266.80 326.30L259.00 326.30Q257.00 326.30 257.00 324.30L257.00 291.00" stroke="#ff0000" stroke-width="1.0" stroke-opacity="0.8"/>
<path d="M266.80 330.60L259.00 330.60Q257.00 330.60 257.00 328.60L257.00 291.00" stroke="#ff0000" stroke-width="1.0" stroke-opacity="0.8"/>
<path d="M287.60 300.10L297.40 300.10Q300.40 300.10 300.40 297.10L300.40 261.50" stroke="#ee82ee" stroke-width="1.0" stroke-opacity="0.8"/>
<path d="M287.60 304.40L288.10 304.40Q288.60 304.40 289.03 304.65L289.57 304.95Q290.00 305.20 290.50 305.20L305.00 305.20" stroke="#ee82ee" stroke-width="1.0" stroke-opacity="0.8"/>
<path d="M287.60 308.80L288.10 308.80Q288.60 308.80 289.05 309.02L289.55 309.28Q290.00 309.50 290.50 309.50L305.00 309.50" stroke="#ee82ee" stroke-width="1.0" stroke-opacity="0.8"/>
<path d="M287.60 313.20L288.10 313.20Q288.60 313.20 289.05 313.42L289.55 313.68Q290.00 313.90 290.50 313.90L305.00 313.90" stroke="#ee82ee" stroke-width="1.0" stroke-opacity="0.8"/>
<path d="M287.60 317.50L288.10 317.50Q288.60 317.50 289.05 317.72L289.55 317.98Q290.00 318.20 290.50 318.20L305.00 318.20" stroke="#ee82ee" stroke-width="1.0" stroke-opacity="0.8"/>
<path d="M287.60 321.90L288.10 321.90Q288.60 321.90 289.05 322.12L289.55 322.38Q290.00 322.60 290.50 322.60L305.00 322.60" stroke="#ee82ee" stroke-width="1.0" stroke-opacity="0.8"/>
<path d="M287.60 326.30L288.10 326.30Q288.60 326.30 289.06 326.50L289.54 326.70Q290.00 326.90 290.50 326.90L305.00 326.90" stroke="#ee82ee" stroke-width="1.0" stroke-opacity="0.8"/>
<path d="M287.60 330.60L288.10 330.60Q288.60 330.60 289.03 330.85L289.57 331.15Q290.00 331.40 290.50 331.40L305.00 331.40" stroke="#ee82ee" stroke-width="1.0" stroke-opacity="0.8"/>
<path d="M273.70 265.30L290.40 265.30Q292.30 265.30 292.30 263.40L292.30 261.50" stroke="#008000" stroke-width="1.0" stroke-opacity="0.8"/>
<path d="M296.30 261.50L296.30 280.50Q296.30 282.50 298.30 282.50L303.10 282.50Q305.10 282.50 305.10 284.50L305.10 301.00" stroke="#008000" stroke-width="1.0" stroke-opacity="0.8"/>
<path d="M352.50 305.20L372.90 305.20Q374.90 305.20 374.90 303.20L374.90 246.40Q374.90 244.40 372.90 244.40L328.80 244.40Q326.80 244.40 326.80 242.40L326.80 219.30Q326.80 217.30 328.80 217.30L340.30 217.30" stroke="#008000" stroke-width="1.0" stroke-opacity="0.8"/>
<path d="M352.50 309.50L386.50 309.50Q388.50 309.50 388.50 307.50L388.50 237.30Q388.50 235.30 386.50 235.30L363.80 235.30Q361.80 235.30 361.80 233.30L361.80 225.60" stroke="#008000" stroke-width="1.0" stroke-opacity="0.8"/>
<path d="M352.50 313.90L438.40 313.90Q440.40 313.90 440.40 315.90L440.40 408.30Q440.40 410.30 442.40 410.30L458.60 410.30" stroke="#008000" stroke-width="1.0" stroke-opacity="0.8"/>
<path d="M352.50 318.20L429.80 318.20Q431.80 318.20 431.80 320.20L431.80 456.60Q431.80 458.60 433.80 458.60L458.60 458.60" stroke="#008000" stroke-width="1.0" stroke-opacity="0.8"/>
<path d="M352.50 322.60L421.10 322.60Q423.10 322.60 423.10 324.60L423.10 508.90Q423.10 510.90 425.10 510.90L458.60 510.90" stroke="#008000" stroke-width="1.0" stroke-opacity="0.8"/>
<path d="M497.90 162.40L328.80 162.40Q326.80 162.40 326.80 164.40L326.80 206.80Q326.80 208.80 328.80 208.80L340.30 208.80" stroke="#008000" stroke-width="1.0" stroke-opacity="0.8"/>
<path d="M383.20 213.50L432.40 213.50" stroke="#008000" stroke-width="1.0" stroke-opacity="0.8"/>
<path d="M475.40 213.50L502.20 213.50" stroke="#008000" stroke-width="1.0" stroke-opacity="0.8"/>
<path d="M545.20 213.50L572.20 213.50" stroke="#008000" stroke-width="1.0" stroke-opacity="0.8"/>
<path d="M615.20 213.50L642.30 213.50" stroke="#008000" stroke-width="1.0" stroke-opacity="0.8"/>
<path d="M685.30 213.50L707.60 213.50" stroke="#008000" stroke-width="1.0" stroke-opacity="0.8"/>
<path d="M750.60 213.50L778.00 213.50" stroke="#008000" stroke-width="1.0" stroke-opacity="0.8"/>
<path d="M821.00 213.50L847.60 213.50" stroke="#008000" stroke-width="1.0" stroke-opacity="0.8"/>
<path d="M890.60 213.50L917.90 213.50" stroke="#008000" stroke-width="1.0" stroke-opacity="0.8"/>
<path d="M690.10 140.40L586.40 140.40Q584.40 140.40 584.40 142.40L584.40 155.80Q584.40 157.80 582.40 157.80L540.70 157.80" stroke="#008000" stroke-width="1.0" stroke-opacity="0.8"/>
<path d="M615.20 213.50L626.70 213.50Q628.70 213.50 628.70 211.50L628.70 168.50Q628.70 166.50 626.70 166.50L540.70 166.50" stroke="#008000" stroke-width="1.0" stroke-opacity="0.8"/>
<path d="M773.90 114.40L753.40 114.40Q751.40 114.40 751.40 116.40L751.40 134.00Q751.40 136.00 749.40 136.00L733.60 136.00" stroke="#008000" stroke-width="1.0" stroke-opacity="0.8"/>
<path d="M750.60 213.50L762.40 213.50Q764.40 213.50 764.40 211.50L764.40 149.60Q764.40 147.60 762.40 147.60L735.00 147.60Q733.60 147.60 733.60 146.20L733.60 144.80" stroke="#008000" stroke-width="1.0" stroke-opacity="0.8"/>
<path d="M821.00 213.50L836.70 213.50Q838.70 213.50 838.70 211.50L838.70 120.80Q838.70 118.80 836.70 118.80L817.00 118.80" stroke="#008000" stroke-width="1.0" stroke-opacity="0.8"/>
<path d="M960.90 213.50L981.00 213.50Q983.00 213.50 983.00 211.50L983.00 112.00Q983.00 110.00 981.00 110.00L817.00 110.00" stroke="#ee82ee" stroke-width="1.0" stroke-opacity="0.8"/>
<path d="M960.90 213.50L981.00 213.50Q983.00 213.50 983.00 215.50L983.00 259.30Q983.00 261.30 981.00 261.30L604.70 261.30Q602.70 261.30 602.70 263.30L602.70 299.00Q602.70 301.00 604.70 301.00L620.20 301.00" stroke="#ee82ee" stroke-width="1.0" stroke-opacity="0.8"/>
<path d="M777.50 419.00L793.00 419.00Q795.00 419.00 795.00 417.00L795.00 381.70Q795.00 379.70 793.00 379.70L587.50 379.70Q585.50 379.70 585.50 377.70L585.50 307.20Q585.50 305.20 587.50 305.20L620.20 305.20" stroke="#ee82ee" stroke-width="1.0" stroke-opacity="0.8"/>
<path d="M777.50 475.80L801.90 475.80Q803.90 475.80 803.90 473.80L803.90 373.00Q803.90 371.00 801.90 371.00L595.70 371.00Q593.70 371.00 593.70 369.00L593.70 311.50Q593.70 309.50 595.70 309.50L620.20 309.50" stroke="#ee82ee" stroke-width="1.0" stroke-opacity="0.8"/>
<path d="M501.80 410.30L541.50 410.30" stroke="#008000" stroke-width="1.0" stroke-opacity="0.8"/>
<path d="M501.80 410.30L517.50 410.30Q519.50 410.30 519.50 412.30L519.50 491.30Q519.50 493.30 521.50 493.30L541.50 493.30" stroke="#008000" stroke-width="1.0" stroke-opacity="0.8"/>
<path d="M501.80 458.60L526.20 458.60Q528.20 458.60 528.20 456.60L528.20 421.20Q528.20 419.20 530.20 419.20L541.50 419.20" stroke="#008000" stroke-width="1.0" stroke-opacity="0.8"/>
<path d="M501.80 458.60L508.30 458.60Q510.30 458.60 510.30 460.60L510.30 500.20Q510.30 502.20 512.30 502.20L541.50 502.20" stroke="#008000" stroke-width="1.0" stroke-opacity="0.8"/>
<path d="M501.80 511.00L560.70 511.00Q562.70 511.00 562.70 509.00L562.70 478.10Q562.70 476.10 564.70 476.10L615.80 476.10" stroke="#008000" stroke-width="1.0" stroke-opacity="0.8"/>
<path d="M501.80 511.00L560.70 511.00Q562.70 511.00 562.70 509.00L562.70 464.80Q562.70 462.80 564.70 462.80L591.90 462.80Q593.90 462.80 593.90 460.80L593.90 425.40Q593.90 423.40 595.90 423.40L672.90 423.40" stroke="#008000" stroke-width="1.0" stroke-opacity="0.8"/>
<path d="M584.70 414.50L672.90 414.50" stroke="#008000" stroke-width="1.0" stroke-opacity="0.8"/>
<path d="M584.70 414.50L600.40 414.50Q602.40 414.50 602.40 416.50L602.40 465.20Q602.40 467.20 604.40 467.20L615.80 467.20" stroke="#008000" stroke-width="1.0" stroke-opacity="0.8"/>
<path d="M584.70 497.60L662.00 497.60Q664.00 497.60 664.00 495.60L664.00 482.20Q664.00 480.20 666.00 480.20L672.90 480.20" stroke="#008000" stroke-width="1.0" stroke-opacity="0.8"/>
<path d="M658.90 471.40L672.90 471.40" stroke="#008000" stroke-width="1.0" stroke-opacity="0.8"/>
<path d="M716.10 418.90L734.00 418.90" stroke="#008000" stroke-width="1.0" stroke-opacity="0.8"/>
<path d="M716.10 475.80L734.00 475.80" stroke="#008000" stroke-width="1.0" stroke-opacity="0.8"/>
<path d="M667.50 301.00L670.50 301.00Q672.50 301.00 672.50 299.00L672.50 285.30Q672.50 283.30 674.50 283.30L723.40 283.30Q725.40 283.30 725.40 285.30L725.40 302.40" stroke="#008000" stroke-width="1.0" stroke-opacity="0.8"/>
<path d="M667.50 305.20L674.70 305.20Q676.70 305.20 676.70 303.20L676.70 289.30Q676.70 287.30 678.70 287.30L718.70 287.30Q720.70 287.30 720.70 289.30L720.70 302.40" stroke="#008000" stroke-width="1.0" stroke-opacity="0.8"/>
<path d="M667.50 309.50L679.40 309.50Q681.40 309.50 681.40 307.50L681.40 294.50Q681.40 292.50 683.40 292.50L731.80 292.50Q733.80 292.50 733.80 294.50L733.80 338.20Q733.80 340.20 731.80 340.20L722.70 340.20Q720.70 340.20 720.70 338.20L720.70 333.30" stroke="#008000" stroke-width="1.0" stroke-opacity="0.8"/>
<path d="M667.50 313.90L688.40 313.90Q690.40 313.90 690.40 315.90L690.40 338.20Q690.40 340.20 692.40 340.20L710.00 340.20Q712.00 340.20 712.00 338.20L712.00 333.30" stroke="#008000" stroke-width="1.0" stroke-opacity="0.8"/>
<path d="M667.50 318.20L683.60 318.20Q685.60 318.20 685.60 320.20L685.60 335.10Q685.60 337.10 687.60 337.10L705.70 337.10Q707.60 337.10 707.60 335.20L707.60 333.30" stroke="#008000" stroke-width="1.0" stroke-opacity="0.8"/>
<path d="M667.50 322.60L696.70 322.60Q698.70 322.60 698.70 320.60L698.70 298.70Q698.70 296.70 700.70 296.70L710.00 296.70Q712.00 296.70 712.00 298.70L712.00 302.40" stroke="#008000" stroke-width="1.0" stroke-opacity="0.8"/>
<path d="M667.50 326.90L700.90 326.90Q702.90 326.90 702.90 324.90L702.90 304.60Q702.90 302.60 704.90 302.60L707.60 302.60" stroke="#008000" stroke-width="1.0" stroke-opacity="0.8"/>
<path d="M667.50 331.40L667.50 342.00Q667.50 344.00 669.50 344.00L723.40 344.00Q725.40 344.00 725.40 342.00L725.40 333.30" stroke="#008000" stroke-width="1.0" stroke-opacity="0.8"/>
</g>
</svg>
<div id="title"></div>
<svg id="top" width="1200" height="630" viewBox="0 0 1200 630" font-family="Liberation Sans, sans-serif">
<g fill="#fff" font-size="43"><text x="81.0" y="58" textLength="62.5" lengthAdjust="spacingAndGlyphs">tiny</text><rect x="148.3" y="41.8" width="12.4" height="3.3" fill="#fff"/><text x="162.7" y="58" textLength="137.2" lengthAdjust="spacingAndGlyphs">tapeout</text><rect x="303.3" y="41.8" width="13.4" height="3.3" fill="#fff"/><text x="318.1" y="58" textLength="65.0" lengthAdjust="spacingAndGlyphs">poc</text><rect x="386.7" y="41.8" width="12.6" height="3.3" fill="#fff"/><text x="401.2" y="58" textLength="69.6" lengthAdjust="spacingAndGlyphs">new</text><rect x="476.0" y="41.8" width="11.3" height="3.3" fill="#fff"/><text x="488.7" y="58" textLength="142.2" lengthAdjust="spacingAndGlyphs">internal</text><rect x="631.7" y="41.8" width="11.6" height="3.3" fill="#fff"/><text x="645.4" y="58" textLength="150.5" lengthAdjust="spacingAndGlyphs">pulls.ino</text></g>
<g id="logo" stroke="#000" stroke-width="4.2" stroke-linecap="round" stroke-linejoin="round" fill="none">
<path d="M984.2 539.3L992.2 565.9L1007.3 550.5M1003.2 538.2L1011.5 563.5L1021.5 535.8"/>
<ellipse cx="1042.8" cy="551" rx="12" ry="15.2" transform="rotate(6 1042.8 551)"/>
<path d="M1065 535.2V567.3M1082.6 535.2L1066.6 551.5L1084 566"/>
<path d="M1091.2 535.3L1100.6 566.6L1110.1 536L1118 567.2L1132.2 535.2"/>
<path d="M1142.6 544C1141.5 552 1140.4 560 1140.3 567.3"/>
<g fill="#fff" stroke-width="3.6">
<circle cx="984.2" cy="539.3" r="3.4"/><circle cx="1003.2" cy="538.2" r="3.4"/><circle cx="1021.5" cy="535.8" r="3.4"/>
<circle cx="992.2" cy="565.9" r="3.4"/><circle cx="1011.5" cy="563.5" r="3.4"/>
<circle cx="1142.9" cy="536.6" r="3.2"/>
</g>
<circle cx="1066.9" cy="551.7" r="1.4" fill="#fff" stroke="none"/>
</g>

</svg>
</body></html>
